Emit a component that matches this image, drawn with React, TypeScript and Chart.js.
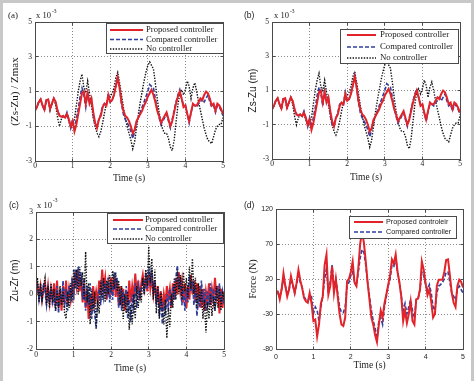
import React, { useEffect, useRef } from "react";
import { Chart, registerables } from "chart.js";
Chart.register(...registerables);

// ---------- sampling times (s) ----------
const TIME_AB = Array.from({ length: 101 }, (_, i) => +(i * 0.05).toFixed(2));
const TIME_C = Array.from({ length: 126 }, (_, i) => +(i * 0.04).toFixed(2));
const TIME_D = TIME_AB;

// ---------- tick labels ----------
const X_TICKS = [0, 1, 2, 3, 4, 5];
const Y_TICKS_AB = [-3, -1, 1, 3, 5];
const Y_TICKS_C = [-2, -1, 0, 1, 2, 3];
const Y_TICKS_D = [-80, -30, 20, 70, 120];

// ---------- legend labels ----------
const LEGEND_ABC = ["Proposed controller", "Compared controller", "No controller"];
const LEGEND_D = ["Proposed controleir", "Compared controller"];

// ---------- (a)/(b) suspension deflection, x 10^-3 ----------
const A_PROPOSED = [
  -0.1, 0.1, 0.4, 0.55, 0.2, -0.05, 0.5, 0.55, 0.0, 0.3,
  0.6, 0.4, -0.1, -0.4, -0.45, -0.4, -0.5, -0.3, -0.6, -1.0,
  -0.7, -1.3, -0.9, -0.3, 0.3, 0.9, 1.0, 0.3, 0.9, 0.3,
  0.6, -0.2, -0.8, -1.1, -0.6, -0.4, 0.1, 0.3, 0.2, 0.8,
  0.4, 0.5, 0.8, 1.3, 1.8, 1.2, 0.4, -0.1, -0.4, -0.5,
  -0.7, -1.0, -1.4, -1.2, -0.7, -0.5, -0.3, -0.1, 0.2, 0.4,
  0.7, 0.9, 1.1, 0.8, 0.4, -0.1, -0.4, -0.8, -0.6, -0.4,
  -0.2, -0.6, -1.0, -0.7, -0.2, 0.3, 0.7, 1.0, 0.6, 0.1,
  0.2, -0.3, -0.7, -0.2, 0.3, 0.2, 0.2, 0.4, 0.6, 0.5,
  0.8, 1.0, 0.9, 0.6, 0.2, 0.3, -0.1, 0.3, 0.2, 0.0,
  -0.3,
];
const A_COMPARED = [
  -0.1, 0.1, 0.4, 0.55, 0.2, -0.05, 0.5, 0.55, 0.0, 0.3,
  0.6, 0.35, -0.1, -0.35, -0.5, -0.4, -0.5, -0.2, -0.6, -1.1,
  -0.6, -1.1, -0.6, 0.0, 0.7, 1.2, 0.8, 0.1, 1.0, 0.4,
  0.6, -0.4, -1.0, -1.0, -0.6, -0.3, 0.2, 0.3, 0.2, 0.9,
  0.4, 0.5, 0.8, 1.3, 1.9, 1.2, 0.3, -0.3, -0.6, -0.8,
  -1.0, -1.3, -1.7, -1.3, -0.8, -0.5, -0.2, 0.1, 0.4, 0.7,
  1.0, 1.4, 1.3, 1.2, 0.6, 0.0, -0.5, -0.9, -0.7, -0.5,
  -0.3, -0.7, -1.1, -0.6, -0.1, 0.4, 0.8, 1.1, 0.6, 0.2,
  0.2, -0.3, -0.8, -0.2, 0.2, 0.2, 0.1, 0.3, 0.4, 0.6,
  0.4, 0.6, 0.8, 0.4, 0.1, 0.2, -0.2, 0.2, 0.1, -0.1,
  -0.4,
];
const A_NONE = [
  -0.1, 0.1, 0.4, 0.55, 0.2, -0.1, 0.5, 0.5, -0.1, 0.3,
  0.6, 0.2, -0.5, -1.0, -0.6, -0.4, -0.5, -0.4, -0.7, -1.1,
  -0.9, -0.6, 0.2, 1.0, 1.6, 2.0, 1.2, 1.0, 1.6, 0.9,
  0.2, -0.5, -1.0, -1.4, -1.6, -1.3, -0.8, -0.2, 0.3, 0.5,
  0.7, 0.9, 1.2, 1.8, 2.1, 1.5, 0.8, 0.1, -0.5, -1.0,
  -1.4, -1.8, -2.3, -1.9, -1.1, -0.3, 0.4, 1.0, 1.6, 2.1,
  2.5, 2.7, 2.5, 2.3, 1.5, 0.6, -0.2, -0.8, -1.2, -1.4,
  -1.4, -1.7, -2.2, -2.4, -1.8, -0.8, 0.2, 0.9, 1.1, 0.8,
  1.1, 1.6, 1.3, 0.6, 1.2, 1.5, 1.0, 0.4, -0.1, -0.6,
  -1.1, -1.5, -1.8, -1.9, -2.0, -1.6, -1.2, -1.0, -0.9, -0.9,
  -0.5,
];

// ---------- (c) tyre deflection, x 10^-3 ----------
const C_PROPOSED = [
  0.0, 0.3, -0.1, 0.3, -0.2, 0.2, 0.4, -0.2, 0.3, -0.3,
  0.2, -0.2, 0.4, -0.4, 0.5, -0.5, 0.1, -0.6, 0.3, -0.3,
  0.5, -0.4, 0.2, -0.2, 0.4, 0.0, 0.8, 0.3, 0.9, 0.1,
  0.6, -0.3, 0.4, -0.5, 0.2, -0.9, 0.0, -0.6, 0.3, -0.3,
  0.1, -0.3, 0.5, 0.0, 0.9, 0.2, 0.6, -0.2, 0.4, -0.1,
  0.6, 0.0, 0.7, -0.1, 0.5, -0.4, 0.3, -0.5, 0.2, -0.6,
  0.1, -0.4, 0.5, -0.3, 0.3, -0.1, 0.75, 0.0, 0.5, -0.2,
  0.4, 0.7, 0.2, 0.6, 0.1, 0.8, 0.2, 0.6, 0.0, 0.5,
  -0.3, 0.3, -0.5, 0.1, -0.6, 0.0, -0.4, 0.3, -0.2, 0.2,
  -0.5, 0.4, -0.2, 0.6, 0.0, 0.8, 0.1, 0.5, -0.3, 0.4,
  -0.5, 0.3, -0.2, 0.7, 0.0, 0.5, -0.3, 0.4, -0.2, 0.3,
  -0.5, 0.2, -0.6, 0.1, -0.3, 0.4, -0.4, 0.2, -0.2, 0.6,
  -0.1, 0.3, -0.7, 0.2, -0.5, 0.1,
];
const C_COMPARED = [
  0.0, 0.4, -0.2, 0.2, -0.3, 0.4, 0.1, -0.4, 0.2, -0.3,
  0.3, -0.4, 0.1, -0.6, 0.3, -0.7, 0.2, -0.3, 0.5, -0.5,
  0.2, -0.6, 0.3, -0.1, 0.6, -0.2, 0.9, 0.2, 1.0, 0.3,
  0.8, -0.2, 0.6, -0.6, 0.3, -0.4, 0.4, -0.9, -0.1, -0.7,
  -1.25, -0.2, 0.2, -0.4, 0.5, -0.1, 0.4, 0.0, 0.6, -0.3,
  0.4, -0.2, 0.8, 0.3, 0.6, -0.5, 0.2, -0.6, 0.1, -0.4,
  0.3, -0.9, -0.2, -1.0, 0.0, -0.7, 0.4, -0.5, 0.3, -0.1,
  0.2, 0.5, 0.0, 0.8, 0.2, 1.0, 0.3, 0.9, 0.0, 0.5,
  -0.4, 0.2, -0.8, -0.1, -1.1, -0.3, -0.8, 0.0, -0.6, 0.2,
  -0.4, 0.3, -0.2, 0.6, 1.05, 0.2, 0.6, -0.4, 0.3, -0.6,
  0.2, -0.3, 0.7, 0.1, 0.5, -0.4, 0.3, -0.8, 0.0, -0.5,
  0.5, -0.3, 0.2, -0.6, 0.1, -0.4, 0.4, -0.3, 0.2, -0.6,
  0.3, -0.2, 0.4, -0.3, 0.1, -0.4,
];
const C_NONE = [
  0.0, 0.6, -0.3, 0.4, -0.2, 0.3, 0.6, -0.4, 0.3, -0.5,
  0.4, -0.3, 0.2, -0.6, 0.1, -0.5, 0.3, -0.4, 0.1, -0.7,
  -0.9, 0.1, -0.5, 0.4, -0.3, 0.9, 0.2, 0.9, 0.0, 1.0,
  0.3, 0.8, -0.2, 1.55, -0.3, 0.4, -1.1, 0.2, -0.6, 0.1,
  -1.25, -0.2, -0.7, 0.5, -0.2, 0.6, -0.3, 0.5, 0.0, 0.7,
  0.1, 0.85, 0.2, 0.8, 0.1, 0.5, -0.4, 0.3, -0.9, 0.0,
  -0.7, 0.1, -1.3, -0.4, -1.1, 0.0, -0.9, 0.3, -0.5, 0.2,
  -0.3, 0.6, 0.0, 0.9, 0.3, 1.75, 0.4, 1.3, -0.2, 0.9,
  -0.7, 0.3, -0.9, 0.1, -0.6, -1.1, -0.2, -1.6, -0.5, -1.2,
  0.0, -0.5, 0.6, -0.2, 0.9, 0.0, 0.7, -0.2, 0.8, 0.1,
  0.6, -0.1, 1.0, 0.2, 1.3, 0.0, 0.6, -0.5, 0.4, -0.3,
  0.2, -0.9, -0.2, -1.4, -0.3, -0.9, 0.0, -0.8, -0.1, -0.6,
  0.3, -0.5, 0.2, -0.6, 0.1, -0.2,
];

// ---------- (d) actuator force, N ----------
const D_PROPOSED = [
  3, 2, -9, 5, 28, 10, -5, 5, 24, 12,
  0, 14, 33, 18, 7, -7, -12, -14, 0, -15,
  -40, -38, -62, -45, -15, -5, 40, 55, -2, 10,
  38, 0, 20, -5, -30, -45, -47, -35, 17, 20,
  30, 45, 15, 10, 35, 70, 88, 72, 45, 15,
  -10, -35, -45, -60, -70, -45, -25, -35, -15, -2,
  12, 25, 48, 42, 55, 30, 15, -5, -40, -25,
  -43, -30, -12, -40, -45, -9, -8, 5, 45, 33,
  14, -3, 5, -12, -35, -30, 10, 19, 19, 19,
  30, 47, 48, 25, 0, -14, -20, 10, 19, 16,
  8,
];
const D_COMPARED = [
  2, 0, -5, 5, 20, 10, 0, 5, 20, 10,
  0, 12, 25, 15, 8, -5, -10, -12, -5, -5,
  -30, -20, -25, -40, -20, -5, 20, 35, 0, 15,
  40, 10, 20, 0, -20, -28, -28, -20, 10, 15,
  25, 30, 15, 10, 30, 50, 62, 58, 40, 15,
  -5, -25, -40, -50, -65, -40, -35, -45, -20, -5,
  10, 20, 40, 38, 50, 30, 15, -5, -25, -15,
  -30, -20, -10, -25, -35, -10, -8, 5, 30, 25,
  12, 5, 12, 0, -20, -25, 0, 10, 12, 15,
  20, 30, 30, 15, 0, -5, -10, 5, 10, 5,
  0,
];

// ---------- styles ----------
const SERIF = '"Liberation Serif", "Times New Roman", serif';
const SANS = '"Liberation Sans", Arial, sans-serif';
const RED = "#e3232a";
const BLUE = "#2f3f9e";
const BLACK = "#111111";
const GRID = "#8a8a8a";
const FRAME = "#4a4a4a";
const TEXT = "#1a1a1a";

type LineStyle = { color: string; width: number; dash: number[] };
const ST_PROPOSED: LineStyle = { color: RED, width: 2, dash: [] };
const ST_COMPARED: LineStyle = { color: BLUE, width: 1.6, dash: [4, 2] };
const ST_NONE: LineStyle = { color: BLACK, width: 1.4, dash: [1.4, 1.4] };

type Panel = {
  key: string;
  left: number; top: number; w: number; h: number;
  area: { l: number; t: number; r: number; b: number };
  times: number[];
  values: number[][];
  labels: string[];
  styles: LineStyle[];
  orders: number[];
  yMin: number; yMax: number; yTicks: number[];
  yTitle: string; yTitleFont: { family: string; size: number }; yTitlePad: number;
  tickFont: { family: string; size: number };
  xTickPad: number; yTickPad: number; xTitlePad: number;
  tag: string; tagFont: string; tagPos: [number, number];
  expPos: [number, number] | null;
  legend: { x: number; y: number; w: number; h: number; rows: number[]; s0: number; s1: number; tx: number; font: string };
};

const PANELS: Panel[] = [
  {
    key: "a", left: 0, top: 0, w: 237, h: 190,
    area: { l: 35, t: 22, r: 223, b: 161 },
    times: TIME_AB, values: [A_PROPOSED, A_COMPARED, A_NONE], labels: LEGEND_ABC,
    styles: [ST_PROPOSED, ST_COMPARED, ST_NONE], orders: [0, 1, 2],
    yMin: -3, yMax: 5, yTicks: Y_TICKS_AB,
    yTitle: "(Zs-Zu) / Zmax", yTitleFont: { family: SERIF, size: 11 }, yTitlePad: 8.5,
    tickFont: { family: SERIF, size: 7.5 }, xTickPad: 1, yTickPad: 3, xTitlePad: 6,
    tag: "(a)", tagFont: `9px ${SERIF}`, tagPos: [8, 16], expPos: [36, 16],
    legend: { x: 106, y: 23, w: 117, h: 30, rows: [30, 39.5, 49], s0: 110, s1: 143, tx: 146, font: `8.6px ${SERIF}` },
  },
  {
    key: "b", left: 237, top: 0, w: 237, h: 190,
    area: { l: 35, t: 22, r: 223, b: 159 },
    times: TIME_AB, values: [A_PROPOSED, A_COMPARED, A_NONE], labels: LEGEND_ABC,
    styles: [ST_PROPOSED, ST_COMPARED, ST_NONE], orders: [0, 1, 2],
    yMin: -3, yMax: 5, yTicks: Y_TICKS_AB,
    yTitle: "Zs-Zu (m)", yTitleFont: { family: SANS, size: 10 }, yTitlePad: 10,
    tickFont: { family: SERIF, size: 7.5 }, xTickPad: 1, yTickPad: 3, xTitlePad: 7,
    tag: "(b)", tagFont: `8.5px ${SANS}`, tagPos: [7, 16], expPos: [37, 16],
    legend: { x: 103, y: 29, w: 118, h: 34, rows: [35, 47, 58], s0: 110, s1: 139, tx: 143, font: `8.8px ${SERIF}` },
  },
  {
    key: "c", left: 0, top: 190, w: 237, h: 191,
    area: { l: 36, t: 22, r: 224, b: 159 },
    times: TIME_C, values: [C_PROPOSED, C_COMPARED, C_NONE], labels: LEGEND_ABC,
    styles: [ST_PROPOSED, ST_COMPARED, ST_NONE], orders: [2, 1, 0],
    yMin: -2, yMax: 3, yTicks: Y_TICKS_C,
    yTitle: "Zu-Zr (m)", yTitleFont: { family: SANS, size: 10 }, yTitlePad: 9.5,
    tickFont: { family: SERIF, size: 7.5 }, xTickPad: 1.5, yTickPad: 3, xTitlePad: 7,
    tag: "(c)", tagFont: `8.5px ${SANS}`, tagPos: [9, 15.5], expPos: [37, 15.5],
    legend: { x: 107, y: 23, w: 116, h: 30, rows: [30, 39, 49], s0: 113, s1: 143, tx: 145, font: `8.7px ${SERIF}` },
  },
  {
    key: "d", left: 237, top: 190, w: 237, h: 191,
    area: { l: 39, t: 19, r: 226, b: 159 },
    times: TIME_D, values: [D_PROPOSED, D_COMPARED], labels: LEGEND_D,
    styles: [ST_PROPOSED, ST_COMPARED], orders: [0, 1],
    yMin: -80, yMax: 120, yTicks: Y_TICKS_D,
    yTitle: "Force (N)", yTitleFont: { family: SERIF, size: 10 }, yTitlePad: 10.5,
    tickFont: { family: SANS, size: 7 }, xTickPad: 3.5, yTickPad: 3, xTitlePad: 10,
    tag: "(d)", tagFont: `8.5px ${SANS}`, tagPos: [7, 15.5], expPos: null,
    legend: { x: 112, y: 26, w: 107, h: 22, rows: [32, 42], s0: 117, s1: 146, tx: 149, font: `7.2px ${SANS}` },
  },
];

function align(px: number) {
  return Math.round(px - 0.5) + 0.5;
}

function makeDecor(p: Panel) {
  return {
    id: "decor_" + p.key,
    afterDatasetsDraw(chart: any) {
      const ctx: CanvasRenderingContext2D = chart.ctx;
      const a = chart.chartArea;
      const xs = chart.scales.x;
      const ys = chart.scales.y;
      ctx.save();
      ctx.setLineDash([]);
      const L = align(a.left), R = align(a.right), T = align(a.top), B = align(a.bottom);
      ctx.strokeStyle = FRAME;
      ctx.lineWidth = 1;
      ctx.strokeRect(L, T, R - L, B - T);
      ctx.beginPath();
      X_TICKS.forEach((v) => {
        const x = align(xs.getPixelForValue(v));
        ctx.moveTo(x, B); ctx.lineTo(x, B - 3);
        ctx.moveTo(x, T); ctx.lineTo(x, T + 3);
      });
      p.yTicks.forEach((v) => {
        const y = align(ys.getPixelForValue(v));
        ctx.moveTo(L, y); ctx.lineTo(L + 3, y);
        ctx.moveTo(R, y); ctx.lineTo(R - 3, y);
      });
      ctx.stroke();
      const lg = p.legend;
      ctx.fillStyle = "#ffffff";
      ctx.fillRect(lg.x, lg.y, lg.w, lg.h);
      ctx.strokeStyle = FRAME;
      ctx.strokeRect(lg.x + 0.5, lg.y + 0.5, lg.w, lg.h);
      chart.data.datasets.forEach((ds: any, i: number) => {
        const st = p.styles[i];
        const y = lg.rows[i];
        ctx.beginPath();
        ctx.strokeStyle = st.color;
        ctx.lineWidth = st.width;
        ctx.setLineDash(st.dash);
        ctx.moveTo(lg.s0, y);
        ctx.lineTo(lg.s1, y);
        ctx.stroke();
        ctx.setLineDash([]);
        ctx.fillStyle = TEXT;
        ctx.font = lg.font;
        ctx.textBaseline = "middle";
        ctx.textAlign = "left";
        ctx.fillText(ds.label, lg.tx, y);
      });
      ctx.fillStyle = TEXT;
      ctx.font = p.tagFont;
      ctx.textBaseline = "middle";
      ctx.textAlign = "left";
      ctx.fillText(p.tag, p.tagPos[0], p.tagPos[1]);
      if (p.expPos) {
        ctx.font = `8.5px ${SERIF}`;
        ctx.fillText("x 10", p.expPos[0], p.expPos[1]);
        const w = ctx.measureText("x 10").width;
        ctx.font = `5.5px ${SERIF}`;
        ctx.fillText("-3", p.expPos[0] + w + 1, p.expPos[1] - 4.5);
      }
      ctx.restore();
    },
  };
}

function PanelChart({ p }: { p: Panel }) {
  const ref = useRef<HTMLCanvasElement | null>(null);
  useEffect(() => {
    if (!ref.current) return;
    const chart = new Chart(ref.current, {
      type: "line",
      data: {
        datasets: p.values.map((vals, i) => ({
          label: p.labels[i],
          data: vals.map((v, j) => ({ x: p.times[j], y: v })),
          borderColor: p.styles[i].color,
          borderWidth: p.styles[i].width,
          borderDash: p.styles[i].dash,
          pointRadius: 0,
          fill: false,
          tension: 0,
          order: p.orders[i],
        })),
      },
      options: {
        responsive: false,
        animation: false,
        devicePixelRatio: 1,
        events: [],
        layout: { padding: { top: p.area.t, right: p.w - p.area.r, left: 0, bottom: 0 } },
        plugins: { legend: { display: false }, tooltip: { enabled: false } },
        scales: {
          x: {
            type: "linear",
            min: 0,
            max: 5,
            afterBuildTicks: (s: any) => { s.ticks = X_TICKS.map((v) => ({ value: v })); },
            afterFit: (s: any) => { s.height = p.h - p.area.b; },
            grid: { color: GRID, lineWidth: 1, drawTicks: false },
            border: { display: false, dash: [1, 2] },
            ticks: { font: p.tickFont, color: TEXT, padding: p.xTickPad, maxRotation: 0, autoSkip: false, callback: (v: any) => String(v) },
            title: { display: true, text: "Time (s)", font: { family: SERIF, size: 9.5 }, color: TEXT, padding: { top: 0, bottom: p.xTitlePad } },
          },
          y: {
            type: "linear",
            min: p.yMin,
            max: p.yMax,
            afterBuildTicks: (s: any) => { s.ticks = p.yTicks.map((v) => ({ value: v })); },
            afterFit: (s: any) => { s.width = p.area.l; },
            grid: { color: GRID, lineWidth: 1, drawTicks: false },
            border: { display: false, dash: [1, 2] },
            ticks: { font: p.tickFont, color: TEXT, padding: p.yTickPad, autoSkip: false, callback: (v: any) => String(v) },
            title: { display: true, text: p.yTitle, font: p.yTitleFont, color: TEXT, padding: { top: p.yTitlePad, bottom: 0 } },
          },
        },
      } as any,
      plugins: [makeDecor(p)],
    });
    return () => chart.destroy();
  }, [p]);
  return (
    <canvas
      ref={ref}
      width={p.w}
      height={p.h}
      style={{ position: "absolute", left: p.left, top: p.top, width: p.w, height: p.h }}
    />
  );
}

export default function App() {
  return (
    <div style={{ position: "absolute", left: 0, top: 0, width: 474, height: 381, background: "#c8c8c8", overflow: "hidden" }}>
      <div style={{ position: "absolute", left: 3, top: 3, width: 468, height: 378, background: "#ffffff" }} />
      {PANELS.map((p) => (
        <PanelChart key={p.key} p={p} />
      ))}
    </div>
  );
}
